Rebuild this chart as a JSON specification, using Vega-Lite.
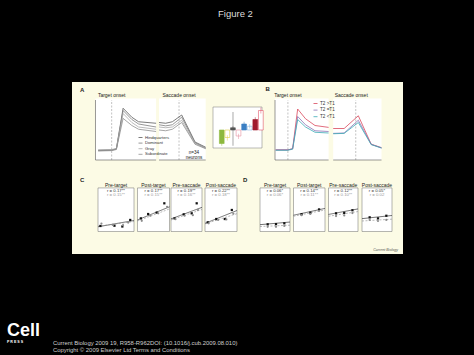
{
"$schema": "https://vega.github.io/schema/vega-lite/v6.json",
"background": "#000000",
"autosize": {"type": "pad"},
"padding": {"left": 7, "right": 75, "top": 8, "bottom": 4},
"title": {"text": "Figure 2", "anchor": "start", "frame": "group", "dx": 146, "offset": 64, "fontSize": 9.5, "fontWeight": "normal", "color": "#dddddd", "font": "Liberation Sans"},
"config": {
 "font": "Liberation Sans",
 "view": {"fill": "#fcfbe5", "stroke": "transparent", "strokeWidth": 0},
 "axis": {"grid": false, "domain": false, "labelFont": "Liberation Sans", "labelFontSize": 5, "labelColor": "#333333", "tickColor": "#555555", "domainColor": "#555555", "tickSize": 2, "tickWidth": 0.6, "domainWidth": 0.6, "labelPadding": 1, "titleFont": "Liberation Sans", "titleFontSize": 5, "titleFontWeight": "normal", "titleColor": "#333333", "titlePadding": 1.5, "labelOverlap": false, "labelFlush": false},
 "legend": {"labelFont": "Liberation Sans", "labelFontSize": 4.2, "labelColor": "#333333", "padding": 0, "rowPadding": 0.6, "labelOffset": 2, "symbolSize": 16, "symbolStrokeWidth": 0.8},
 "title": {"font": "Liberation Sans", "fontSize": 6, "fontWeight": "bold", "color": "#222222", "subtitleFont": "Liberation Sans"},
 "text": {"font": "Liberation Sans", "color": "#222222"}
},
"datasets": {
 "firingA": [
  {"alignment": "Target onset", "group": "Hindquarters", "t": -100, "rate": 13},
  {"alignment": "Target onset", "group": "Hindquarters", "t": 0, "rate": 13.5},
  {"alignment": "Target onset", "group": "Hindquarters", "t": 35, "rate": 15},
  {"alignment": "Target onset", "group": "Hindquarters", "t": 85, "rate": 69},
  {"alignment": "Target onset", "group": "Hindquarters", "t": 150, "rate": 57},
  {"alignment": "Target onset", "group": "Hindquarters", "t": 200, "rate": 51},
  {"alignment": "Target onset", "group": "Hindquarters", "t": 330, "rate": 49},
  {"alignment": "Target onset", "group": "Dominant", "t": -100, "rate": 12.5},
  {"alignment": "Target onset", "group": "Dominant", "t": 0, "rate": 13},
  {"alignment": "Target onset", "group": "Dominant", "t": 35, "rate": 14.5},
  {"alignment": "Target onset", "group": "Dominant", "t": 85, "rate": 66},
  {"alignment": "Target onset", "group": "Dominant", "t": 150, "rate": 54},
  {"alignment": "Target onset", "group": "Dominant", "t": 200, "rate": 48},
  {"alignment": "Target onset", "group": "Dominant", "t": 330, "rate": 44},
  {"alignment": "Target onset", "group": "Gray", "t": -100, "rate": 13.5},
  {"alignment": "Target onset", "group": "Gray", "t": 0, "rate": 14},
  {"alignment": "Target onset", "group": "Gray", "t": 35, "rate": 15},
  {"alignment": "Target onset", "group": "Gray", "t": 85, "rate": 62},
  {"alignment": "Target onset", "group": "Gray", "t": 150, "rate": 50},
  {"alignment": "Target onset", "group": "Gray", "t": 200, "rate": 44},
  {"alignment": "Target onset", "group": "Gray", "t": 330, "rate": 41},
  {"alignment": "Target onset", "group": "Subordinate", "t": -100, "rate": 12},
  {"alignment": "Target onset", "group": "Subordinate", "t": 0, "rate": 12.5},
  {"alignment": "Target onset", "group": "Subordinate", "t": 35, "rate": 14},
  {"alignment": "Target onset", "group": "Subordinate", "t": 85, "rate": 55.5},
  {"alignment": "Target onset", "group": "Subordinate", "t": 150, "rate": 46},
  {"alignment": "Target onset", "group": "Subordinate", "t": 200, "rate": 41},
  {"alignment": "Target onset", "group": "Subordinate", "t": 330, "rate": 38},
  {"alignment": "Saccade onset", "group": "Hindquarters", "t": -150, "rate": 50},
  {"alignment": "Saccade onset", "group": "Hindquarters", "t": -100, "rate": 49},
  {"alignment": "Saccade onset", "group": "Hindquarters", "t": -50, "rate": 51},
  {"alignment": "Saccade onset", "group": "Hindquarters", "t": 20, "rate": 60},
  {"alignment": "Saccade onset", "group": "Hindquarters", "t": 120, "rate": 24},
  {"alignment": "Saccade onset", "group": "Hindquarters", "t": 200, "rate": 17},
  {"alignment": "Saccade onset", "group": "Dominant", "t": -150, "rate": 47},
  {"alignment": "Saccade onset", "group": "Dominant", "t": -100, "rate": 45.5},
  {"alignment": "Saccade onset", "group": "Dominant", "t": -50, "rate": 47},
  {"alignment": "Saccade onset", "group": "Dominant", "t": 20, "rate": 57},
  {"alignment": "Saccade onset", "group": "Dominant", "t": 120, "rate": 23},
  {"alignment": "Saccade onset", "group": "Dominant", "t": 200, "rate": 16},
  {"alignment": "Saccade onset", "group": "Gray", "t": -150, "rate": 44},
  {"alignment": "Saccade onset", "group": "Gray", "t": -100, "rate": 43},
  {"alignment": "Saccade onset", "group": "Gray", "t": -50, "rate": 44},
  {"alignment": "Saccade onset", "group": "Gray", "t": 20, "rate": 53},
  {"alignment": "Saccade onset", "group": "Gray", "t": 120, "rate": 22},
  {"alignment": "Saccade onset", "group": "Gray", "t": 200, "rate": 15.5},
  {"alignment": "Saccade onset", "group": "Subordinate", "t": -150, "rate": 40},
  {"alignment": "Saccade onset", "group": "Subordinate", "t": -100, "rate": 39},
  {"alignment": "Saccade onset", "group": "Subordinate", "t": -50, "rate": 41},
  {"alignment": "Saccade onset", "group": "Subordinate", "t": 20, "rate": 50},
  {"alignment": "Saccade onset", "group": "Subordinate", "t": 120, "rate": 21},
  {"alignment": "Saccade onset", "group": "Subordinate", "t": 200, "rate": 15}
 ],
 "firingB": [
  {"alignment": "Target onset", "juice": "T2 >T1", "t": -90, "rate": 13.5},
  {"alignment": "Target onset", "juice": "T2 >T1", "t": 0, "rate": 13.5},
  {"alignment": "Target onset", "juice": "T2 >T1", "t": 35, "rate": 15},
  {"alignment": "Target onset", "juice": "T2 >T1", "t": 72, "rate": 68},
  {"alignment": "Target onset", "juice": "T2 >T1", "t": 130, "rate": 55},
  {"alignment": "Target onset", "juice": "T2 >T1", "t": 200, "rate": 46},
  {"alignment": "Target onset", "juice": "T2 >T1", "t": 300, "rate": 43.5},
  {"alignment": "Target onset", "juice": "T2 =T1", "t": -90, "rate": 13.5},
  {"alignment": "Target onset", "juice": "T2 =T1", "t": 0, "rate": 13.5},
  {"alignment": "Target onset", "juice": "T2 =T1", "t": 35, "rate": 15},
  {"alignment": "Target onset", "juice": "T2 =T1", "t": 72, "rate": 58},
  {"alignment": "Target onset", "juice": "T2 =T1", "t": 130, "rate": 47},
  {"alignment": "Target onset", "juice": "T2 =T1", "t": 200, "rate": 39},
  {"alignment": "Target onset", "juice": "T2 =T1", "t": 300, "rate": 38},
  {"alignment": "Target onset", "juice": "T2 <T1", "t": -90, "rate": 13},
  {"alignment": "Target onset", "juice": "T2 <T1", "t": 0, "rate": 13},
  {"alignment": "Target onset", "juice": "T2 <T1", "t": 35, "rate": 14.5},
  {"alignment": "Target onset", "juice": "T2 <T1", "t": 72, "rate": 54},
  {"alignment": "Target onset", "juice": "T2 <T1", "t": 130, "rate": 44},
  {"alignment": "Target onset", "juice": "T2 <T1", "t": 200, "rate": 37},
  {"alignment": "Target onset", "juice": "T2 <T1", "t": 300, "rate": 36},
  {"alignment": "Saccade onset", "juice": "T2 >T1", "t": -175, "rate": 42},
  {"alignment": "Saccade onset", "juice": "T2 >T1", "t": -90, "rate": 42},
  {"alignment": "Saccade onset", "juice": "T2 >T1", "t": 20, "rate": 59},
  {"alignment": "Saccade onset", "juice": "T2 >T1", "t": 120, "rate": 21},
  {"alignment": "Saccade onset", "juice": "T2 >T1", "t": 200, "rate": 16.5},
  {"alignment": "Saccade onset", "juice": "T2 =T1", "t": -175, "rate": 35.5},
  {"alignment": "Saccade onset", "juice": "T2 =T1", "t": -90, "rate": 36},
  {"alignment": "Saccade onset", "juice": "T2 =T1", "t": 20, "rate": 53},
  {"alignment": "Saccade onset", "juice": "T2 =T1", "t": 120, "rate": 21},
  {"alignment": "Saccade onset", "juice": "T2 =T1", "t": 200, "rate": 16},
  {"alignment": "Saccade onset", "juice": "T2 <T1", "t": -175, "rate": 35},
  {"alignment": "Saccade onset", "juice": "T2 <T1", "t": -90, "rate": 35.5},
  {"alignment": "Saccade onset", "juice": "T2 <T1", "t": 20, "rate": 50},
  {"alignment": "Saccade onset", "juice": "T2 <T1", "t": 120, "rate": 20.5},
  {"alignment": "Saccade onset", "juice": "T2 <T1", "t": 200, "rate": 16}
 ],
 "inset": [
  {"condition": "Subordinate (M1)", "value": -18, "lo": -21, "hi": -15},
  {"condition": "Subordinate (M2)", "value": -10, "lo": -14, "hi": -7},
  {"condition": "Gray (M1)", "value": 3, "lo": 1, "hi": 5},
  {"condition": "Gray (M2)", "value": -8, "lo": -12, "hi": -5},
  {"condition": "Dominant (M1)", "value": 8, "lo": 5, "hi": 11},
  {"condition": "Dominant (M2)", "value": 5, "lo": 2, "hi": 8},
  {"condition": "Hindquarters (M1)", "value": 14, "lo": 11, "hi": 17},
  {"condition": "Hindquarters (M2)", "value": 26, "lo": 22, "hi": 30}
 ],
 "imageValuePoints": [
  {"epoch": "Pre-target", "set": "Set 1", "x": -48, "rate": 10.5},
  {"epoch": "Pre-target", "set": "Set 1", "x": -7, "rate": 11},
  {"epoch": "Pre-target", "set": "Set 1", "x": 16, "rate": 9.5},
  {"epoch": "Pre-target", "set": "Set 1", "x": 39, "rate": 22},
  {"epoch": "Pre-target", "set": "Set 2", "x": -45, "rate": 15},
  {"epoch": "Pre-target", "set": "Set 2", "x": -12, "rate": 12.5},
  {"epoch": "Pre-target", "set": "Set 2", "x": 18, "rate": 12},
  {"epoch": "Pre-target", "set": "Set 2", "x": 33, "rate": 17},
  {"epoch": "Post-target", "set": "Set 1", "x": -44, "rate": 25},
  {"epoch": "Post-target", "set": "Set 1", "x": -20, "rate": 33.3},
  {"epoch": "Post-target", "set": "Set 1", "x": 8, "rate": 36},
  {"epoch": "Post-target", "set": "Set 1", "x": 33, "rate": 53.7},
  {"epoch": "Post-target", "set": "Set 2", "x": -41, "rate": 20.4},
  {"epoch": "Post-target", "set": "Set 2", "x": -13, "rate": 30},
  {"epoch": "Post-target", "set": "Set 2", "x": 13, "rate": 34.6},
  {"epoch": "Post-target", "set": "Set 2", "x": 42, "rate": 47},
  {"epoch": "Pre-saccade", "set": "Set 1", "x": -43, "rate": 25},
  {"epoch": "Pre-saccade", "set": "Set 1", "x": -12, "rate": 32.7},
  {"epoch": "Pre-saccade", "set": "Set 1", "x": 15, "rate": 34.6},
  {"epoch": "Pre-saccade", "set": "Set 1", "x": 32, "rate": 53.7},
  {"epoch": "Pre-saccade", "set": "Set 2", "x": -40, "rate": 23.5},
  {"epoch": "Pre-saccade", "set": "Set 2", "x": -9, "rate": 30},
  {"epoch": "Pre-saccade", "set": "Set 2", "x": 19, "rate": 31},
  {"epoch": "Pre-saccade", "set": "Set 2", "x": 36, "rate": 41},
  {"epoch": "Post-saccade", "set": "Set 1", "x": -46, "rate": 17.5},
  {"epoch": "Post-saccade", "set": "Set 1", "x": -18, "rate": 23.8},
  {"epoch": "Post-saccade", "set": "Set 1", "x": 10, "rate": 23.8},
  {"epoch": "Post-saccade", "set": "Set 1", "x": 33, "rate": 41},
  {"epoch": "Post-saccade", "set": "Set 2", "x": -43, "rate": 15.6},
  {"epoch": "Post-saccade", "set": "Set 2", "x": -12, "rate": 22},
  {"epoch": "Post-saccade", "set": "Set 2", "x": 15, "rate": 23},
  {"epoch": "Post-saccade", "set": "Set 2", "x": 38, "rate": 34}
 ],
 "imageValueFits": [
  {"epoch": "Pre-target", "set": "Set 1", "x": -55, "rate": 9},
  {"epoch": "Pre-target", "set": "Set 1", "x": 50, "rate": 21},
  {"epoch": "Pre-target", "set": "Set 2", "x": -55, "rate": 10},
  {"epoch": "Pre-target", "set": "Set 2", "x": 50, "rate": 19},
  {"epoch": "Post-target", "set": "Set 1", "x": -55, "rate": 22},
  {"epoch": "Post-target", "set": "Set 1", "x": 50, "rate": 47},
  {"epoch": "Post-target", "set": "Set 2", "x": -55, "rate": 20},
  {"epoch": "Post-target", "set": "Set 2", "x": 50, "rate": 43},
  {"epoch": "Pre-saccade", "set": "Set 1", "x": -55, "rate": 24},
  {"epoch": "Pre-saccade", "set": "Set 1", "x": 50, "rate": 46},
  {"epoch": "Pre-saccade", "set": "Set 2", "x": -55, "rate": 22},
  {"epoch": "Pre-saccade", "set": "Set 2", "x": 50, "rate": 42},
  {"epoch": "Post-saccade", "set": "Set 1", "x": -55, "rate": 15.5},
  {"epoch": "Post-saccade", "set": "Set 1", "x": 50, "rate": 40},
  {"epoch": "Post-saccade", "set": "Set 2", "x": -55, "rate": 14.5},
  {"epoch": "Post-saccade", "set": "Set 2", "x": 50, "rate": 34}
 ],
 "juicePoints": [
  {"epoch": "Pre-target", "set": "Set 1", "x": -25, "rate": 13.7},
  {"epoch": "Pre-target", "set": "Set 1", "x": 0, "rate": 14},
  {"epoch": "Pre-target", "set": "Set 1", "x": 25, "rate": 15.6},
  {"epoch": "Pre-target", "set": "Set 2", "x": -25, "rate": 9},
  {"epoch": "Pre-target", "set": "Set 2", "x": 0, "rate": 9},
  {"epoch": "Pre-target", "set": "Set 2", "x": 25, "rate": 10.5},
  {"epoch": "Post-target", "set": "Set 1", "x": -25, "rate": 33},
  {"epoch": "Post-target", "set": "Set 1", "x": 0, "rate": 35.8},
  {"epoch": "Post-target", "set": "Set 1", "x": 25, "rate": 42},
  {"epoch": "Post-target", "set": "Set 2", "x": -25, "rate": 31},
  {"epoch": "Post-target", "set": "Set 2", "x": 0, "rate": 33.5},
  {"epoch": "Post-target", "set": "Set 2", "x": 25, "rate": 39.5},
  {"epoch": "Pre-saccade", "set": "Set 1", "x": -25, "rate": 34.6},
  {"epoch": "Pre-saccade", "set": "Set 1", "x": 0, "rate": 35.5},
  {"epoch": "Pre-saccade", "set": "Set 1", "x": 25, "rate": 40.5},
  {"epoch": "Pre-saccade", "set": "Set 2", "x": -25, "rate": 29.5},
  {"epoch": "Pre-saccade", "set": "Set 2", "x": 0, "rate": 30.5},
  {"epoch": "Pre-saccade", "set": "Set 2", "x": 25, "rate": 35},
  {"epoch": "Post-saccade", "set": "Set 1", "x": -25, "rate": 27},
  {"epoch": "Post-saccade", "set": "Set 1", "x": 0, "rate": 25},
  {"epoch": "Post-saccade", "set": "Set 1", "x": 25, "rate": 30},
  {"epoch": "Post-saccade", "set": "Set 2", "x": -25, "rate": 22},
  {"epoch": "Post-saccade", "set": "Set 2", "x": 0, "rate": 20},
  {"epoch": "Post-saccade", "set": "Set 2", "x": 25, "rate": 22}
 ],
 "juiceFits": [
  {"epoch": "Pre-target", "set": "Set 1", "x": -48, "rate": 13},
  {"epoch": "Pre-target", "set": "Set 1", "x": 42, "rate": 18},
  {"epoch": "Pre-target", "set": "Set 2", "x": -48, "rate": 9.5},
  {"epoch": "Pre-target", "set": "Set 2", "x": 42, "rate": 12},
  {"epoch": "Post-target", "set": "Set 1", "x": -48, "rate": 31},
  {"epoch": "Post-target", "set": "Set 1", "x": 42, "rate": 44},
  {"epoch": "Post-target", "set": "Set 2", "x": -48, "rate": 29},
  {"epoch": "Post-target", "set": "Set 2", "x": 42, "rate": 41},
  {"epoch": "Pre-saccade", "set": "Set 1", "x": -48, "rate": 32.5},
  {"epoch": "Pre-saccade", "set": "Set 1", "x": 42, "rate": 43},
  {"epoch": "Pre-saccade", "set": "Set 2", "x": -48, "rate": 29},
  {"epoch": "Pre-saccade", "set": "Set 2", "x": 42, "rate": 38},
  {"epoch": "Post-saccade", "set": "Set 1", "x": -48, "rate": 24.5},
  {"epoch": "Post-saccade", "set": "Set 1", "x": 42, "rate": 30.5},
  {"epoch": "Post-saccade", "set": "Set 2", "x": -48, "rate": 20},
  {"epoch": "Post-saccade", "set": "Set 2", "x": 42, "rate": 23.5}
 ]
},
"spacing": 0,
"resolve": {"scale": {"color": "independent", "shape": "independent", "strokeDash": "independent", "fill": "independent", "stroke": "independent"}},
"vconcat": [
 {
  "spacing": 0, "bounds": "flush",
  "resolve": {"scale": {"color": "independent"}},
  "hconcat": [
   {
    "width": 85, "height": 93,
    "title": {"text": "A", "anchor": "start", "frame": "group", "dx": 8, "offset": -10.5},
    "layer": [
     {"data": {"values": [{}]}, "mark": {"type": "rect", "fill": "#ffffff"},
      "encoding": {"x": {"datum": -120, "scale": {"domain": [-294.5, 336.7], "nice": false, "zero": false}, "axis": null}, "x2": {"datum": 330}, "y": {"datum": 0, "scale": {"domain": [-20, 104], "nice": false, "zero": false}, "axis": null}, "y2": {"datum": 82}}},
     {"data": {"values": [{}]}, "mark": {"type": "rule", "stroke": "#9a9a9a", "strokeWidth": 0.6, "strokeDash": [2, 1.5]},
      "encoding": {"x": {"datum": 0, "scale": {"domain": [-294.5, 336.7], "nice": false, "zero": false}, "axis": null}, "y": {"datum": 0, "scale": {"domain": [-20, 104], "nice": false, "zero": false}, "axis": null}, "y2": {"datum": 80}}},
     {"data": {"values": [{}]}, "mark": {"type": "rule", "stroke": "#555555", "strokeWidth": 0.6},
      "encoding": {"x": {"datum": -120, "scale": {"domain": [-294.5, 336.7], "nice": false, "zero": false}, "axis": null}, "x2": {"datum": 330}, "y": {"datum": 0, "scale": {"domain": [-20, 104], "nice": false, "zero": false}, "axis": null}}},
     {"data": {"values": [{}]}, "mark": {"type": "rule", "stroke": "#555555", "strokeWidth": 0.6},
      "encoding": {"x": {"datum": -120, "scale": {"domain": [-294.5, 336.7], "nice": false, "zero": false}, "axis": null}, "y": {"datum": 0, "scale": {"domain": [-20, 104], "nice": false, "zero": false}, "axis": null}, "y2": {"datum": 80}}},
     {"data": {"name": "firingA"}, "transform": [{"filter": "datum.alignment == 'Target onset'"}], "mark": {"type": "line", "strokeWidth": 0.8},
      "encoding": {
       "x": {"field": "t", "type": "quantitative", "scale": {"domain": [-294.5, 336.7], "nice": false, "zero": false}, "axis": {"values": [-100, 0, 100, 200, 300], "labelExpr": "datum.value == 0 || datum.value == 200 ? datum.label : ''", "title": null, "offset": -15}},
       "y": {"field": "rate", "type": "quantitative", "scale": {"domain": [-20, 104], "nice": false, "zero": false}, "axis": {"values": [0, 20, 40, 60, 80], "labelExpr": "datum.value % 40 == 0 ? datum.label : ''", "title": "Firing rate (sp/s)", "titleFontSize": 4.3, "offset": -23.5}},
       "color": {"field": "group", "type": "nominal", "scale": {"domain": ["Hindquarters", "Dominant", "Gray", "Subordinate"], "range": ["#5a5a5a", "#7d7d7d", "#aaaaaa", "#8f8f8f"]}, "legend": null}}},
     {"data": {"values": [{}]}, "mark": {"type": "text", "fontSize": 5},
      "encoding": {"x": {"datum": 0, "scale": {"domain": [-294.5, 336.7], "nice": false, "zero": false}, "axis": null}, "y": {"datum": 87, "scale": {"domain": [-20, 104], "nice": false, "zero": false}, "axis": null}, "text": {"value": "Target onset"}}}
    ]
   },
   {
    "width": 53, "height": 93,
    "layer": [
     {"data": {"values": [{}]}, "mark": {"type": "rect", "fill": "#ffffff"},
      "encoding": {"x": {"datum": -150, "scale": {"domain": [-165, 232.2], "nice": false, "zero": false}, "axis": null}, "x2": {"datum": 200}, "y": {"datum": 0, "scale": {"domain": [-20, 104], "nice": false, "zero": false}, "axis": null}, "y2": {"datum": 82}}},
     {"data": {"values": [{}]}, "mark": {"type": "rule", "stroke": "#9a9a9a", "strokeWidth": 0.6, "strokeDash": [2, 1.5]},
      "encoding": {"x": {"datum": 0, "scale": {"domain": [-165, 232.2], "nice": false, "zero": false}, "axis": null}, "y": {"datum": 0, "scale": {"domain": [-20, 104], "nice": false, "zero": false}, "axis": null}, "y2": {"datum": 80}}},
     {"data": {"values": [{}]}, "mark": {"type": "rule", "stroke": "#555555", "strokeWidth": 0.6},
      "encoding": {"x": {"datum": -150, "scale": {"domain": [-165, 232.2], "nice": false, "zero": false}, "axis": null}, "x2": {"datum": 200}, "y": {"datum": 0, "scale": {"domain": [-20, 104], "nice": false, "zero": false}, "axis": null}}},
     {"data": {"name": "firingA"}, "transform": [{"filter": "datum.alignment == 'Saccade onset'"}], "mark": {"type": "line", "strokeWidth": 0.8},
      "encoding": {
       "x": {"field": "t", "type": "quantitative", "scale": {"domain": [-165, 232.2], "nice": false, "zero": false}, "axis": {"values": [-100, 0, 100, 200], "labelExpr": "datum.value == 0 || datum.value == 200 ? datum.label : ''", "title": "Time (ms)", "titleX": -5, "titleY": 11, "titleBaseline": "middle", "titleAlign": "center", "offset": -15}},
       "y": {"field": "rate", "type": "quantitative", "scale": {"domain": [-20, 104], "nice": false, "zero": false}, "axis": null},
       "color": {"field": "group", "type": "nominal", "scale": {"domain": ["Hindquarters", "Dominant", "Gray", "Subordinate"], "range": ["#5a5a5a", "#7d7d7d", "#aaaaaa", "#8f8f8f"]}, "legend": {"orient": "none", "legendX": -19, "legendY": 53, "title": null}}}},
     {"data": {"values": [{}]}, "mark": {"type": "text", "fontSize": 5},
      "encoding": {"x": {"datum": 0, "scale": {"domain": [-165, 232.2], "nice": false, "zero": false}, "axis": null}, "y": {"datum": 87, "scale": {"domain": [-20, 104], "nice": false, "zero": false}, "axis": null}, "text": {"value": "Saccade onset"}}},
     {"data": {"values": [{}]}, "mark": {"type": "text", "fontSize": 4.6, "lineHeight": 5.5, "baseline": "middle"},
      "encoding": {"x": {"datum": 112, "scale": {"domain": [-165, 232.2], "nice": false, "zero": false}, "axis": null}, "y": {"datum": 9.5, "scale": {"domain": [-20, 104], "nice": false, "zero": false}, "axis": null}, "text": {"value": ["n=34", "neurons"]}}}
    ]
   },
   {
    "width": 55, "height": 93,
    "resolve": {"scale": {"x": "independent"}, "axis": {"x": "independent"}},
    "layer": [
     {"data": {"values": [{}]}, "mark": {"type": "rect", "fill": "#ffffff", "stroke": "#777777", "strokeWidth": 0.5},
      "encoding": {"x": {"datum": 0, "scale": {"domain": [-0.0612, 1.0612], "nice": false, "zero": false}, "axis": null}, "x2": {"datum": 1}, "y": {"datum": -24, "scale": {"domain": [-60, 64], "nice": false, "zero": false}, "axis": null}, "y2": {"datum": 30.67}}},
     {"data": {"values": [{}]}, "mark": {"type": "rule", "stroke": "#555555", "strokeWidth": 0.5},
      "encoding": {"x": {"datum": 0.408, "scale": {"domain": [-0.0612, 1.0612], "nice": false, "zero": false}, "axis": null}, "y": {"datum": -21, "scale": {"domain": [-60, 64], "nice": false, "zero": false}, "axis": null}, "y2": {"datum": 24}}},
     {"data": {"name": "inset"}, "mark": {"type": "bar", "strokeWidth": 0.6},
      "encoding": {
       "x": {"field": "condition", "type": "nominal", "sort": null, "scale": {"domain": ["Subordinate (M1)", "Subordinate (M2)", "Gray (M1)", "Gray (M2)", "Dominant (M1)", "Dominant (M2)", "Hindquarters (M1)", "Hindquarters (M2)"], "paddingInner": 0.15, "paddingOuter": 5.26, "align": 0.841}, "axis": null},
       "y": {"field": "value", "type": "quantitative", "scale": {"domain": [-60, 64], "nice": false, "zero": false}, "axis": {"values": [-20, 0, 20], "offset": -23, "title": ["Image value", "(ms of juice)"], "titleFontSize": 3.8, "labelFontSize": 4.2, "titlePadding": 1, "tickSize": 1.5}},
       "y2": {"datum": 0},
       "fill": {"field": "condition", "type": "nominal", "scale": {"domain": ["Subordinate (M1)", "Subordinate (M2)", "Gray (M1)", "Gray (M2)", "Dominant (M1)", "Dominant (M2)", "Hindquarters (M1)", "Hindquarters (M2)"], "range": ["#8db83e", "#ffffff", "#555555", "#ffffff", "#3b7fc4", "#ffffff", "#a01b2e", "#ffffff"]}, "legend": null},
       "stroke": {"field": "condition", "type": "nominal", "scale": {"domain": ["Subordinate (M1)", "Subordinate (M2)", "Gray (M1)", "Gray (M2)", "Dominant (M1)", "Dominant (M2)", "Hindquarters (M1)", "Hindquarters (M2)"], "range": ["#8db83e", "#e0cc45", "#555555", "#e48ea0", "#3b7fc4", "#86b6e2", "#a01b2e", "#e25468"]}, "legend": null}}},
     {"data": {"name": "inset"}, "mark": {"type": "rule", "strokeWidth": 0.5},
      "encoding": {
       "x": {"field": "condition", "type": "nominal", "sort": null, "scale": {"domain": ["Subordinate (M1)", "Subordinate (M2)", "Gray (M1)", "Gray (M2)", "Dominant (M1)", "Dominant (M2)", "Hindquarters (M1)", "Hindquarters (M2)"], "paddingInner": 0.15, "paddingOuter": 5.26, "align": 0.841}, "axis": null},
       "y": {"field": "lo", "type": "quantitative", "scale": {"domain": [-60, 64], "nice": false, "zero": false}, "axis": null},
       "y2": {"field": "hi"},
       "stroke": {"field": "condition", "type": "nominal", "scale": {"domain": ["Subordinate (M1)", "Subordinate (M2)", "Gray (M1)", "Gray (M2)", "Dominant (M1)", "Dominant (M2)", "Hindquarters (M1)", "Hindquarters (M2)"], "range": ["#8db83e", "#e0cc45", "#555555", "#e48ea0", "#3b7fc4", "#86b6e2", "#a01b2e", "#e25468"]}, "legend": null}}}
    ]
   },
   {
    "width": 66, "height": 93,
    "title": {"text": "B", "anchor": "start", "frame": "group", "dx": 0.5, "offset": -9.5},
    "layer": [
     {"data": {"values": [{}]}, "mark": {"type": "rect", "fill": "#ffffff"},
      "encoding": {"x": {"datum": -95, "scale": {"domain": [-168.7, 317.7], "nice": false, "zero": false}, "axis": null}, "x2": {"datum": 300}, "y": {"datum": 0, "scale": {"domain": [-20, 104], "nice": false, "zero": false}, "axis": null}, "y2": {"datum": 82}}},
     {"data": {"values": [{}]}, "mark": {"type": "rule", "stroke": "#9a9a9a", "strokeWidth": 0.6, "strokeDash": [2, 1.5]},
      "encoding": {"x": {"datum": 0, "scale": {"domain": [-168.7, 317.7], "nice": false, "zero": false}, "axis": null}, "y": {"datum": 0, "scale": {"domain": [-20, 104], "nice": false, "zero": false}, "axis": null}, "y2": {"datum": 80}}},
     {"data": {"values": [{}]}, "mark": {"type": "rule", "stroke": "#555555", "strokeWidth": 0.6},
      "encoding": {"x": {"datum": -95, "scale": {"domain": [-168.7, 317.7], "nice": false, "zero": false}, "axis": null}, "x2": {"datum": 300}, "y": {"datum": 0, "scale": {"domain": [-20, 104], "nice": false, "zero": false}, "axis": null}}},
     {"data": {"values": [{}]}, "mark": {"type": "rule", "stroke": "#555555", "strokeWidth": 0.6},
      "encoding": {"x": {"datum": -95, "scale": {"domain": [-168.7, 317.7], "nice": false, "zero": false}, "axis": null}, "y": {"datum": 0, "scale": {"domain": [-20, 104], "nice": false, "zero": false}, "axis": null}, "y2": {"datum": 80}}},
     {"data": {"name": "firingB"}, "transform": [{"filter": "datum.alignment == 'Target onset'"}], "mark": {"type": "line", "strokeWidth": 0.8},
      "encoding": {
       "x": {"field": "t", "type": "quantitative", "scale": {"domain": [-168.7, 317.7], "nice": false, "zero": false}, "axis": {"values": [0, 100, 200, 300], "labelExpr": "datum.value == 0 || datum.value == 200 ? datum.label : ''", "title": null, "offset": -15}},
       "y": {"field": "rate", "type": "quantitative", "scale": {"domain": [-20, 104], "nice": false, "zero": false}, "axis": {"values": [0, 20, 40, 60, 80], "labelExpr": "datum.value % 40 == 0 ? datum.label : ''", "title": null, "offset": -10}},
       "color": {"field": "juice", "type": "nominal", "scale": {"domain": ["T2 >T1", "T2 =T1", "T2 <T1"], "range": ["#d9475c", "#8c73b5", "#3aaab5"]}, "legend": null}}},
     {"data": {"values": [{}]}, "mark": {"type": "text", "fontSize": 5},
      "encoding": {"x": {"datum": 0, "scale": {"domain": [-168.7, 317.7], "nice": false, "zero": false}, "axis": null}, "y": {"datum": 87, "scale": {"domain": [-20, 104], "nice": false, "zero": false}, "axis": null}, "text": {"value": "Target onset"}}}
    ]
   },
   {
    "width": 72, "height": 93,
    "layer": [
     {"data": {"values": [{}]}, "mark": {"type": "rect", "fill": "#ffffff"},
      "encoding": {"x": {"datum": -175, "scale": {"domain": [-192.1, 366.9], "nice": false, "zero": false}, "axis": null}, "x2": {"datum": 200}, "y": {"datum": 0, "scale": {"domain": [-20, 104], "nice": false, "zero": false}, "axis": null}, "y2": {"datum": 82}}},
     {"data": {"values": [{}]}, "mark": {"type": "rule", "stroke": "#9a9a9a", "strokeWidth": 0.6, "strokeDash": [2, 1.5]},
      "encoding": {"x": {"datum": 0, "scale": {"domain": [-192.1, 366.9], "nice": false, "zero": false}, "axis": null}, "y": {"datum": 0, "scale": {"domain": [-20, 104], "nice": false, "zero": false}, "axis": null}, "y2": {"datum": 80}}},
     {"data": {"values": [{}]}, "mark": {"type": "rule", "stroke": "#555555", "strokeWidth": 0.6},
      "encoding": {"x": {"datum": -175, "scale": {"domain": [-192.1, 366.9], "nice": false, "zero": false}, "axis": null}, "x2": {"datum": 200}, "y": {"datum": 0, "scale": {"domain": [-20, 104], "nice": false, "zero": false}, "axis": null}}},
     {"data": {"name": "firingB"}, "transform": [{"filter": "datum.alignment == 'Saccade onset'"}], "mark": {"type": "line", "strokeWidth": 0.8},
      "encoding": {
       "x": {"field": "t", "type": "quantitative", "scale": {"domain": [-192.1, 366.9], "nice": false, "zero": false}, "axis": {"values": [-100, 0, 100, 200], "labelExpr": "datum.value == 0 || datum.value == 200 ? datum.label : ''", "title": "Time (ms)", "titleX": -5, "titleY": 9, "titleBaseline": "middle", "titleAlign": "center", "offset": -15}},
       "y": {"field": "rate", "type": "quantitative", "scale": {"domain": [-20, 104], "nice": false, "zero": false}, "axis": null},
       "color": {"field": "juice", "type": "nominal", "scale": {"domain": ["T2 >T1", "T2 =T1", "T2 <T1"], "range": ["#d9475c", "#8c73b5", "#3aaab5"]}, "legend": {"orient": "none", "legendX": -18, "legendY": 19, "title": null, "labelFontSize": 4.6}}}},
     {"data": {"values": [{}]}, "mark": {"type": "text", "fontSize": 5},
      "encoding": {"x": {"datum": -35, "scale": {"domain": [-192.1, 366.9], "nice": false, "zero": false}, "axis": null}, "y": {"datum": 87, "scale": {"domain": [-20, 104], "nice": false, "zero": false}, "axis": null}, "text": {"value": "Saccade onset"}}}
    ]
   }
  ]
 },
 {
  "spacing": 0, "bounds": "flush",
  "resolve": {"scale": {"color": "independent", "shape": "independent", "strokeDash": "independent"}},
  "hconcat": [
   {
    "width": 64, "height": 79,
    "title": {"text": "C", "anchor": "start", "frame": "group", "dx": 8, "offset": -7.5},
    "layer": [
     {"data": {"values": [{}]}, "mark": {"type": "rect", "fill": "#ffffff", "stroke": "#6b6b6b", "strokeWidth": 0.5},
      "encoding": {"x": {"datum": -55, "scale": {"domain": [-130.83, 55.83], "nice": false, "zero": false}, "axis": null}, "x2": {"datum": 50}, "y": {"datum": 0, "scale": {"domain": [-42.86, 107.62], "nice": false, "zero": false}, "axis": null}, "y2": {"datum": 83}}},
     {"data": {"name": "imageValueFits"}, "transform": [{"filter": "datum.epoch == 'Pre-target'"}], "mark": {"type": "line", "strokeWidth": 0.6},
      "encoding": {
       "x": {"field": "x", "type": "quantitative", "scale": {"domain": [-130.83, 55.83], "nice": false, "zero": false}, "axis": {"values": [-25, 0, 25], "offset": -22.5, "title": null, "labelFontSize": 4.5, "tickSize": 1.5}},
       "y": {"field": "rate", "type": "quantitative", "scale": {"domain": [-42.86, 107.62], "nice": false, "zero": false}, "axis": {"values": [20, 40, 60], "offset": -26, "title": "Firing rate (sp/s)", "labelFontSize": 4.5, "titleFontSize": 4.3, "tickSize": 1.5}},
       "color": {"field": "set", "type": "nominal", "scale": {"domain": ["Set 1", "Set 2"], "range": ["#111111", "#8c8c8c"]}, "legend": null},
       "strokeDash": {"field": "set", "type": "nominal", "scale": {"domain": ["Set 1", "Set 2"], "range": [[1, 0], [2, 1.5]]}, "legend": null}}},
     {"data": {"name": "imageValuePoints"}, "transform": [{"filter": "datum.epoch == 'Pre-target'"}], "mark": {"type": "point", "filled": true, "size": 5, "opacity": 1},
      "encoding": {
       "x": {"field": "x", "type": "quantitative", "scale": {"domain": [-130.83, 55.83], "nice": false, "zero": false}, "axis": null},
       "y": {"field": "rate", "type": "quantitative", "scale": {"domain": [-42.86, 107.62], "nice": false, "zero": false}, "axis": null},
       "color": {"field": "set", "type": "nominal", "scale": {"domain": ["Set 1", "Set 2"], "range": ["#111111", "#8c8c8c"]}, "legend": null},
       "shape": {"field": "set", "type": "nominal", "scale": {"domain": ["Set 1", "Set 2"], "range": ["square", "circle"]}, "legend": null}}},
     {"data": {"values": [{}]}, "mark": {"type": "text", "fontSize": 5},
      "encoding": {"x": {"datum": -2.5, "scale": {"domain": [-130.83, 55.83], "nice": false, "zero": false}, "axis": null}, "y": {"datum": 89.5, "scale": {"domain": [-42.86, 107.62], "nice": false, "zero": false}, "axis": null}, "text": {"value": "Pre-target"}}},
     {"data": {"values": [{}]}, "mark": {"type": "text", "fontSize": 4.3, "color": "#333333"},
      "encoding": {"x": {"datum": -2.5, "scale": {"domain": [-130.83, 55.83], "nice": false, "zero": false}, "axis": null}, "y": {"datum": 77.5, "scale": {"domain": [-42.86, 107.62], "nice": false, "zero": false}, "axis": null}, "text": {"value": "r = 0.17**"}}},
     {"data": {"values": [{}]}, "mark": {"type": "text", "fontSize": 4.3, "color": "#9a9a9a"},
      "encoding": {"x": {"datum": -2.5, "scale": {"domain": [-130.83, 55.83], "nice": false, "zero": false}, "axis": null}, "y": {"datum": 70, "scale": {"domain": [-42.86, 107.62], "nice": false, "zero": false}, "axis": null}, "text": {"value": "r = 0.15**"}}}
    ]
   },
   {
    "width": 34, "height": 79,
    "title": {"text": "Cell", "subtitle": "P  R  E  S  S", "orient": "bottom", "anchor": "start", "frame": "group", "dx": -129, "offset": 67.5, "fontSize": 18, "fontWeight": "bold", "color": "#ffffff", "subtitleColor": "#ffffff", "subtitleFontSize": 3.6, "subtitleFontWeight": "bold", "subtitlePadding": 0.5},
    "layer": [
     {"data": {"values": [{}]}, "mark": {"type": "rect", "fill": "#ffffff", "stroke": "#6b6b6b", "strokeWidth": 0.5},
      "encoding": {"x": {"datum": -55, "scale": {"domain": [-59.92, 51.64], "nice": false, "zero": false}, "axis": null}, "x2": {"datum": 50}, "y": {"datum": 0, "scale": {"domain": [-42.86, 107.62], "nice": false, "zero": false}, "axis": null}, "y2": {"datum": 83}}},
     {"data": {"name": "imageValueFits"}, "transform": [{"filter": "datum.epoch == 'Post-target'"}], "mark": {"type": "line", "strokeWidth": 0.6},
      "encoding": {
       "x": {"field": "x", "type": "quantitative", "scale": {"domain": [-59.92, 51.64], "nice": false, "zero": false}, "axis": {"values": [-25, 0, 25], "offset": -22.5, "title": null, "labelFontSize": 4.5, "tickSize": 1.5}},
       "y": {"field": "rate", "type": "quantitative", "scale": {"domain": [-42.86, 107.62], "nice": false, "zero": false}, "axis": null},
       "color": {"field": "set", "type": "nominal", "scale": {"domain": ["Set 1", "Set 2"], "range": ["#111111", "#8c8c8c"]}, "legend": null},
       "strokeDash": {"field": "set", "type": "nominal", "scale": {"domain": ["Set 1", "Set 2"], "range": [[1, 0], [2, 1.5]]}, "legend": null}}},
     {"data": {"name": "imageValuePoints"}, "transform": [{"filter": "datum.epoch == 'Post-target'"}], "mark": {"type": "point", "filled": true, "size": 5, "opacity": 1},
      "encoding": {
       "x": {"field": "x", "type": "quantitative", "scale": {"domain": [-59.92, 51.64], "nice": false, "zero": false}, "axis": null},
       "y": {"field": "rate", "type": "quantitative", "scale": {"domain": [-42.86, 107.62], "nice": false, "zero": false}, "axis": null},
       "color": {"field": "set", "type": "nominal", "scale": {"domain": ["Set 1", "Set 2"], "range": ["#111111", "#8c8c8c"]}, "legend": null},
       "shape": {"field": "set", "type": "nominal", "scale": {"domain": ["Set 1", "Set 2"], "range": ["square", "circle"]}, "legend": null}}},
     {"data": {"values": [{}]}, "mark": {"type": "text", "fontSize": 5},
      "encoding": {"x": {"datum": -2.5, "scale": {"domain": [-59.92, 51.64], "nice": false, "zero": false}, "axis": null}, "y": {"datum": 89.5, "scale": {"domain": [-42.86, 107.62], "nice": false, "zero": false}, "axis": null}, "text": {"value": "Post-target"}}},
     {"data": {"values": [{}]}, "mark": {"type": "text", "fontSize": 4.3, "color": "#333333"},
      "encoding": {"x": {"datum": -2.5, "scale": {"domain": [-59.92, 51.64], "nice": false, "zero": false}, "axis": null}, "y": {"datum": 77.5, "scale": {"domain": [-42.86, 107.62], "nice": false, "zero": false}, "axis": null}, "text": {"value": "r = 0.17**"}}},
     {"data": {"values": [{}]}, "mark": {"type": "text", "fontSize": 4.3, "color": "#9a9a9a"},
      "encoding": {"x": {"datum": -2.5, "scale": {"domain": [-59.92, 51.64], "nice": false, "zero": false}, "axis": null}, "y": {"datum": 70, "scale": {"domain": [-42.86, 107.62], "nice": false, "zero": false}, "axis": null}, "text": {"value": "r = 0.15**"}}}
    ]
   },
   {
    "width": 34, "height": 79,
    "title": {"text": "Current Biology 2009 19, R958-R962DOI: (10.1016/j.cub.2009.08.010)", "subtitle": "Copyright © 2009 Elsevier Ltd Terms and Conditions", "orient": "bottom", "anchor": "start", "frame": "group", "dx": -117, "offset": 86, "fontSize": 5.9, "fontWeight": "normal", "color": "#cfcfcf", "subtitleColor": "#cfcfcf", "subtitleFontSize": 5.9, "subtitlePadding": 1.5},
    "layer": [
     {"data": {"values": [{}]}, "mark": {"type": "rect", "fill": "#ffffff", "stroke": "#6b6b6b", "strokeWidth": 0.5},
      "encoding": {"x": {"datum": -55, "scale": {"domain": [-58.39, 56.77], "nice": false, "zero": false}, "axis": null}, "x2": {"datum": 50}, "y": {"datum": 0, "scale": {"domain": [-42.86, 107.62], "nice": false, "zero": false}, "axis": null}, "y2": {"datum": 83}}},
     {"data": {"name": "imageValueFits"}, "transform": [{"filter": "datum.epoch == 'Pre-saccade'"}], "mark": {"type": "line", "strokeWidth": 0.6},
      "encoding": {
       "x": {"field": "x", "type": "quantitative", "scale": {"domain": [-58.39, 56.77], "nice": false, "zero": false}, "axis": {"values": [-25, 0, 25], "offset": -22.5, "title": null, "labelFontSize": 4.5, "tickSize": 1.5}},
       "y": {"field": "rate", "type": "quantitative", "scale": {"domain": [-42.86, 107.62], "nice": false, "zero": false}, "axis": null},
       "color": {"field": "set", "type": "nominal", "scale": {"domain": ["Set 1", "Set 2"], "range": ["#111111", "#8c8c8c"]}, "legend": null},
       "strokeDash": {"field": "set", "type": "nominal", "scale": {"domain": ["Set 1", "Set 2"], "range": [[1, 0], [2, 1.5]]}, "legend": null}}},
     {"data": {"name": "imageValuePoints"}, "transform": [{"filter": "datum.epoch == 'Pre-saccade'"}], "mark": {"type": "point", "filled": true, "size": 5, "opacity": 1},
      "encoding": {
       "x": {"field": "x", "type": "quantitative", "scale": {"domain": [-58.39, 56.77], "nice": false, "zero": false}, "axis": null},
       "y": {"field": "rate", "type": "quantitative", "scale": {"domain": [-42.86, 107.62], "nice": false, "zero": false}, "axis": null},
       "color": {"field": "set", "type": "nominal", "scale": {"domain": ["Set 1", "Set 2"], "range": ["#111111", "#8c8c8c"]}, "legend": null},
       "shape": {"field": "set", "type": "nominal", "scale": {"domain": ["Set 1", "Set 2"], "range": ["square", "circle"]}, "legend": null}}},
     {"data": {"values": [{}]}, "mark": {"type": "text", "fontSize": 5},
      "encoding": {"x": {"datum": -2.5, "scale": {"domain": [-58.39, 56.77], "nice": false, "zero": false}, "axis": null}, "y": {"datum": 89.5, "scale": {"domain": [-42.86, 107.62], "nice": false, "zero": false}, "axis": null}, "text": {"value": "Pre-saccade"}}},
     {"data": {"values": [{}]}, "mark": {"type": "text", "fontSize": 4.3, "color": "#333333"},
      "encoding": {"x": {"datum": -2.5, "scale": {"domain": [-58.39, 56.77], "nice": false, "zero": false}, "axis": null}, "y": {"datum": 77.5, "scale": {"domain": [-42.86, 107.62], "nice": false, "zero": false}, "axis": null}, "text": {"value": "r = 0.19**"}}},
     {"data": {"values": [{}]}, "mark": {"type": "text", "fontSize": 4.3, "color": "#9a9a9a"},
      "encoding": {"x": {"datum": -2.5, "scale": {"domain": [-58.39, 56.77], "nice": false, "zero": false}, "axis": null}, "y": {"datum": 70, "scale": {"domain": [-42.86, 107.62], "nice": false, "zero": false}, "axis": null}, "text": {"value": "r = 0.16**"}}}
    ]
   },
   {
    "width": 36, "height": 79,
    "layer": [
     {"data": {"values": [{}]}, "mark": {"type": "rect", "fill": "#ffffff", "stroke": "#6b6b6b", "strokeWidth": 0.5},
      "encoding": {"x": {"datum": -55, "scale": {"domain": [-58.28, 59.84], "nice": false, "zero": false}, "axis": null}, "x2": {"datum": 50}, "y": {"datum": 0, "scale": {"domain": [-42.86, 107.62], "nice": false, "zero": false}, "axis": null}, "y2": {"datum": 83}}},
     {"data": {"name": "imageValueFits"}, "transform": [{"filter": "datum.epoch == 'Post-saccade'"}], "mark": {"type": "line", "strokeWidth": 0.6},
      "encoding": {
       "x": {"field": "x", "type": "quantitative", "scale": {"domain": [-58.28, 59.84], "nice": false, "zero": false}, "axis": {"values": [-25, 0, 25], "offset": -22.5, "labelFontSize": 4.5, "tickSize": 1.5, "title": "Image value (ms of juice)", "titleX": -34, "titleY": 10.5, "titleBaseline": "middle", "titleAlign": "center", "titleFontSize": 5}},
       "y": {"field": "rate", "type": "quantitative", "scale": {"domain": [-42.86, 107.62], "nice": false, "zero": false}, "axis": null},
       "color": {"field": "set", "type": "nominal", "scale": {"domain": ["Set 1", "Set 2"], "range": ["#111111", "#8c8c8c"]}, "legend": null},
       "strokeDash": {"field": "set", "type": "nominal", "scale": {"domain": ["Set 1", "Set 2"], "range": [[1, 0], [2, 1.5]]}, "legend": null}}},
     {"data": {"name": "imageValuePoints"}, "transform": [{"filter": "datum.epoch == 'Post-saccade'"}], "mark": {"type": "point", "filled": true, "size": 5, "opacity": 1},
      "encoding": {
       "x": {"field": "x", "type": "quantitative", "scale": {"domain": [-58.28, 59.84], "nice": false, "zero": false}, "axis": null},
       "y": {"field": "rate", "type": "quantitative", "scale": {"domain": [-42.86, 107.62], "nice": false, "zero": false}, "axis": null},
       "color": {"field": "set", "type": "nominal", "scale": {"domain": ["Set 1", "Set 2"], "range": ["#111111", "#8c8c8c"]}, "legend": null},
       "shape": {"field": "set", "type": "nominal", "scale": {"domain": ["Set 1", "Set 2"], "range": ["square", "circle"]}, "legend": null}}},
     {"data": {"values": [{}]}, "mark": {"type": "text", "fontSize": 5},
      "encoding": {"x": {"datum": -2.5, "scale": {"domain": [-58.28, 59.84], "nice": false, "zero": false}, "axis": null}, "y": {"datum": 89.5, "scale": {"domain": [-42.86, 107.62], "nice": false, "zero": false}, "axis": null}, "text": {"value": "Post-saccade"}}},
     {"data": {"values": [{}]}, "mark": {"type": "text", "fontSize": 4.3, "color": "#333333"},
      "encoding": {"x": {"datum": -2.5, "scale": {"domain": [-58.28, 59.84], "nice": false, "zero": false}, "axis": null}, "y": {"datum": 77.5, "scale": {"domain": [-42.86, 107.62], "nice": false, "zero": false}, "axis": null}, "text": {"value": "r = 0.22**"}}},
     {"data": {"values": [{}]}, "mark": {"type": "text", "fontSize": 4.3, "color": "#9a9a9a"},
      "encoding": {"x": {"datum": -2.5, "scale": {"domain": [-58.28, 59.84], "nice": false, "zero": false}, "axis": null}, "y": {"datum": 70, "scale": {"domain": [-42.86, 107.62], "nice": false, "zero": false}, "axis": null}, "text": {"value": "r = 0.18**"}}}
    ]
   },
   {
    "width": 52, "height": 79,
    "title": {"text": "D", "anchor": "start", "frame": "group", "dx": 3, "offset": -7.5},
    "layer": [
     {"data": {"values": [{}]}, "mark": {"type": "rect", "fill": "#ffffff", "stroke": "#6b6b6b", "strokeWidth": 0.5},
      "encoding": {"x": {"datum": -48, "scale": {"domain": [-108, 48], "nice": false, "zero": false}, "axis": null}, "x2": {"datum": 42}, "y": {"datum": 0, "scale": {"domain": [-42.86, 107.62], "nice": false, "zero": false}, "axis": null}, "y2": {"datum": 83}}},
     {"data": {"name": "juiceFits"}, "transform": [{"filter": "datum.epoch == 'Pre-target'"}], "mark": {"type": "line", "strokeWidth": 0.6},
      "encoding": {
       "x": {"field": "x", "type": "quantitative", "scale": {"domain": [-108, 48], "nice": false, "zero": false}, "axis": {"values": [-25, 0, 25], "offset": -22.5, "title": null, "labelFontSize": 4.5, "tickSize": 1.5}},
       "y": {"field": "rate", "type": "quantitative", "scale": {"domain": [-42.86, 107.62], "nice": false, "zero": false}, "axis": {"values": [20, 40, 60], "offset": -20, "title": "Firing rate (sp/s)", "labelFontSize": 4.5, "titleFontSize": 4.3, "tickSize": 1.5}},
       "color": {"field": "set", "type": "nominal", "scale": {"domain": ["Set 1", "Set 2"], "range": ["#111111", "#8c8c8c"]}, "legend": null},
       "strokeDash": {"field": "set", "type": "nominal", "scale": {"domain": ["Set 1", "Set 2"], "range": [[1, 0], [2, 1.5]]}, "legend": null}}},
     {"data": {"name": "juicePoints"}, "transform": [{"filter": "datum.epoch == 'Pre-target'"}], "mark": {"type": "point", "filled": true, "size": 5, "opacity": 1},
      "encoding": {
       "x": {"field": "x", "type": "quantitative", "scale": {"domain": [-108, 48], "nice": false, "zero": false}, "axis": null},
       "y": {"field": "rate", "type": "quantitative", "scale": {"domain": [-42.86, 107.62], "nice": false, "zero": false}, "axis": null},
       "color": {"field": "set", "type": "nominal", "scale": {"domain": ["Set 1", "Set 2"], "range": ["#111111", "#8c8c8c"]}, "legend": null},
       "shape": {"field": "set", "type": "nominal", "scale": {"domain": ["Set 1", "Set 2"], "range": ["square", "circle"]}, "legend": null}}},
     {"data": {"values": [{}]}, "mark": {"type": "text", "fontSize": 5},
      "encoding": {"x": {"datum": -3, "scale": {"domain": [-108, 48], "nice": false, "zero": false}, "axis": null}, "y": {"datum": 89.5, "scale": {"domain": [-42.86, 107.62], "nice": false, "zero": false}, "axis": null}, "text": {"value": "Pre-target"}}},
     {"data": {"values": [{}]}, "mark": {"type": "text", "fontSize": 4.3, "color": "#333333"},
      "encoding": {"x": {"datum": -3, "scale": {"domain": [-108, 48], "nice": false, "zero": false}, "axis": null}, "y": {"datum": 77.5, "scale": {"domain": [-42.86, 107.62], "nice": false, "zero": false}, "axis": null}, "text": {"value": "r = 0.06*"}}},
     {"data": {"values": [{}]}, "mark": {"type": "text", "fontSize": 4.3, "color": "#9a9a9a"},
      "encoding": {"x": {"datum": -3, "scale": {"domain": [-108, 48], "nice": false, "zero": false}, "axis": null}, "y": {"datum": 70, "scale": {"domain": [-42.86, 107.62], "nice": false, "zero": false}, "axis": null}, "text": {"value": "r = 0.06*"}}}
    ]
   },
   {
    "width": 35, "height": 79,
    "layer": [
     {"data": {"values": [{}]}, "mark": {"type": "rect", "fill": "#ffffff", "stroke": "#6b6b6b", "strokeWidth": 0.5},
      "encoding": {"x": {"datum": -48, "scale": {"domain": [-52.29, 47.71], "nice": false, "zero": false}, "axis": null}, "x2": {"datum": 42}, "y": {"datum": 0, "scale": {"domain": [-42.86, 107.62], "nice": false, "zero": false}, "axis": null}, "y2": {"datum": 83}}},
     {"data": {"name": "juiceFits"}, "transform": [{"filter": "datum.epoch == 'Post-target'"}], "mark": {"type": "line", "strokeWidth": 0.6},
      "encoding": {
       "x": {"field": "x", "type": "quantitative", "scale": {"domain": [-52.29, 47.71], "nice": false, "zero": false}, "axis": {"values": [-25, 0, 25], "offset": -22.5, "title": null, "labelFontSize": 4.5, "tickSize": 1.5}},
       "y": {"field": "rate", "type": "quantitative", "scale": {"domain": [-42.86, 107.62], "nice": false, "zero": false}, "axis": null},
       "color": {"field": "set", "type": "nominal", "scale": {"domain": ["Set 1", "Set 2"], "range": ["#111111", "#8c8c8c"]}, "legend": null},
       "strokeDash": {"field": "set", "type": "nominal", "scale": {"domain": ["Set 1", "Set 2"], "range": [[1, 0], [2, 1.5]]}, "legend": null}}},
     {"data": {"name": "juicePoints"}, "transform": [{"filter": "datum.epoch == 'Post-target'"}], "mark": {"type": "point", "filled": true, "size": 5, "opacity": 1},
      "encoding": {
       "x": {"field": "x", "type": "quantitative", "scale": {"domain": [-52.29, 47.71], "nice": false, "zero": false}, "axis": null},
       "y": {"field": "rate", "type": "quantitative", "scale": {"domain": [-42.86, 107.62], "nice": false, "zero": false}, "axis": null},
       "color": {"field": "set", "type": "nominal", "scale": {"domain": ["Set 1", "Set 2"], "range": ["#111111", "#8c8c8c"]}, "legend": null},
       "shape": {"field": "set", "type": "nominal", "scale": {"domain": ["Set 1", "Set 2"], "range": ["square", "circle"]}, "legend": null}}},
     {"data": {"values": [{}]}, "mark": {"type": "text", "fontSize": 5},
      "encoding": {"x": {"datum": -3, "scale": {"domain": [-52.29, 47.71], "nice": false, "zero": false}, "axis": null}, "y": {"datum": 89.5, "scale": {"domain": [-42.86, 107.62], "nice": false, "zero": false}, "axis": null}, "text": {"value": "Post-target"}}},
     {"data": {"values": [{}]}, "mark": {"type": "text", "fontSize": 4.3, "color": "#333333"},
      "encoding": {"x": {"datum": -3, "scale": {"domain": [-52.29, 47.71], "nice": false, "zero": false}, "axis": null}, "y": {"datum": 77.5, "scale": {"domain": [-42.86, 107.62], "nice": false, "zero": false}, "axis": null}, "text": {"value": "r = 0.14**"}}},
     {"data": {"values": [{}]}, "mark": {"type": "text", "fontSize": 4.3, "color": "#9a9a9a"},
      "encoding": {"x": {"datum": -3, "scale": {"domain": [-52.29, 47.71], "nice": false, "zero": false}, "axis": null}, "y": {"datum": 70, "scale": {"domain": [-42.86, 107.62], "nice": false, "zero": false}, "axis": null}, "text": {"value": "r = 0.11**"}}}
    ]
   },
   {
    "width": 33, "height": 79,
    "layer": [
     {"data": {"values": [{}]}, "mark": {"type": "rect", "fill": "#ffffff", "stroke": "#6b6b6b", "strokeWidth": 0.5},
      "encoding": {"x": {"datum": -48, "scale": {"domain": [-52.58, 48.1], "nice": false, "zero": false}, "axis": null}, "x2": {"datum": 42}, "y": {"datum": 0, "scale": {"domain": [-42.86, 107.62], "nice": false, "zero": false}, "axis": null}, "y2": {"datum": 83}}},
     {"data": {"name": "juiceFits"}, "transform": [{"filter": "datum.epoch == 'Pre-saccade'"}], "mark": {"type": "line", "strokeWidth": 0.6},
      "encoding": {
       "x": {"field": "x", "type": "quantitative", "scale": {"domain": [-52.58, 48.1], "nice": false, "zero": false}, "axis": {"values": [-25, 0, 25], "offset": -22.5, "title": null, "labelFontSize": 4.5, "tickSize": 1.5}},
       "y": {"field": "rate", "type": "quantitative", "scale": {"domain": [-42.86, 107.62], "nice": false, "zero": false}, "axis": null},
       "color": {"field": "set", "type": "nominal", "scale": {"domain": ["Set 1", "Set 2"], "range": ["#111111", "#8c8c8c"]}, "legend": null},
       "strokeDash": {"field": "set", "type": "nominal", "scale": {"domain": ["Set 1", "Set 2"], "range": [[1, 0], [2, 1.5]]}, "legend": null}}},
     {"data": {"name": "juicePoints"}, "transform": [{"filter": "datum.epoch == 'Pre-saccade'"}], "mark": {"type": "point", "filled": true, "size": 5, "opacity": 1},
      "encoding": {
       "x": {"field": "x", "type": "quantitative", "scale": {"domain": [-52.58, 48.1], "nice": false, "zero": false}, "axis": null},
       "y": {"field": "rate", "type": "quantitative", "scale": {"domain": [-42.86, 107.62], "nice": false, "zero": false}, "axis": null},
       "color": {"field": "set", "type": "nominal", "scale": {"domain": ["Set 1", "Set 2"], "range": ["#111111", "#8c8c8c"]}, "legend": null},
       "shape": {"field": "set", "type": "nominal", "scale": {"domain": ["Set 1", "Set 2"], "range": ["square", "circle"]}, "legend": null}}},
     {"data": {"values": [{}]}, "mark": {"type": "text", "fontSize": 5},
      "encoding": {"x": {"datum": -3, "scale": {"domain": [-52.58, 48.1], "nice": false, "zero": false}, "axis": null}, "y": {"datum": 89.5, "scale": {"domain": [-42.86, 107.62], "nice": false, "zero": false}, "axis": null}, "text": {"value": "Pre-saccade"}}},
     {"data": {"values": [{}]}, "mark": {"type": "text", "fontSize": 4.3, "color": "#333333"},
      "encoding": {"x": {"datum": -3, "scale": {"domain": [-52.58, 48.1], "nice": false, "zero": false}, "axis": null}, "y": {"datum": 77.5, "scale": {"domain": [-42.86, 107.62], "nice": false, "zero": false}, "axis": null}, "text": {"value": "r = 0.12**"}}},
     {"data": {"values": [{}]}, "mark": {"type": "text", "fontSize": 4.3, "color": "#9a9a9a"},
      "encoding": {"x": {"datum": -3, "scale": {"domain": [-52.58, 48.1], "nice": false, "zero": false}, "axis": null}, "y": {"datum": 70, "scale": {"domain": [-42.86, 107.62], "nice": false, "zero": false}, "axis": null}, "text": {"value": "r = 0.10**"}}}
    ]
   },
   {
    "width": 43, "height": 79,
    "title": {"text": "Current Biology", "orient": "bottom", "anchor": "end", "frame": "group", "dx": -5, "offset": -6.5, "fontSize": 3.6, "fontStyle": "italic", "fontWeight": "normal", "color": "#555555"},
    "layer": [
     {"data": {"values": [{}]}, "mark": {"type": "rect", "fill": "#ffffff", "stroke": "#6b6b6b", "strokeWidth": 0.5},
      "encoding": {"x": {"datum": -48, "scale": {"domain": [-54, 75], "nice": false, "zero": false}, "axis": null}, "x2": {"datum": 42}, "y": {"datum": 0, "scale": {"domain": [-42.86, 107.62], "nice": false, "zero": false}, "axis": null}, "y2": {"datum": 83}}},
     {"data": {"name": "juiceFits"}, "transform": [{"filter": "datum.epoch == 'Post-saccade'"}], "mark": {"type": "line", "strokeWidth": 0.6},
      "encoding": {
       "x": {"field": "x", "type": "quantitative", "scale": {"domain": [-54, 75], "nice": false, "zero": false}, "axis": {"values": [-25, 0, 25], "offset": -22.5, "labelFontSize": 4.5, "tickSize": 1.5, "title": "Juice difference (T2-T1, ms of juice)", "titleX": -35, "titleY": 9, "titleBaseline": "middle", "titleAlign": "center", "titleFontSize": 4.6}},
       "y": {"field": "rate", "type": "quantitative", "scale": {"domain": [-42.86, 107.62], "nice": false, "zero": false}, "axis": null},
       "color": {"field": "set", "type": "nominal", "scale": {"domain": ["Set 1", "Set 2"], "range": ["#111111", "#8c8c8c"]}, "legend": null},
       "strokeDash": {"field": "set", "type": "nominal", "scale": {"domain": ["Set 1", "Set 2"], "range": [[1, 0], [2, 1.5]]}, "legend": null}}},
     {"data": {"name": "juicePoints"}, "transform": [{"filter": "datum.epoch == 'Post-saccade'"}], "mark": {"type": "point", "filled": true, "size": 5, "opacity": 1},
      "encoding": {
       "x": {"field": "x", "type": "quantitative", "scale": {"domain": [-54, 75], "nice": false, "zero": false}, "axis": null},
       "y": {"field": "rate", "type": "quantitative", "scale": {"domain": [-42.86, 107.62], "nice": false, "zero": false}, "axis": null},
       "color": {"field": "set", "type": "nominal", "scale": {"domain": ["Set 1", "Set 2"], "range": ["#111111", "#8c8c8c"]}, "legend": null},
       "shape": {"field": "set", "type": "nominal", "scale": {"domain": ["Set 1", "Set 2"], "range": ["square", "circle"]}, "legend": null}}},
     {"data": {"values": [{}]}, "mark": {"type": "text", "fontSize": 5},
      "encoding": {"x": {"datum": -3, "scale": {"domain": [-54, 75], "nice": false, "zero": false}, "axis": null}, "y": {"datum": 89.5, "scale": {"domain": [-42.86, 107.62], "nice": false, "zero": false}, "axis": null}, "text": {"value": "Post-saccade"}}},
     {"data": {"values": [{}]}, "mark": {"type": "text", "fontSize": 4.3, "color": "#333333"},
      "encoding": {"x": {"datum": -3, "scale": {"domain": [-54, 75], "nice": false, "zero": false}, "axis": null}, "y": {"datum": 77.5, "scale": {"domain": [-42.86, 107.62], "nice": false, "zero": false}, "axis": null}, "text": {"value": "r = 0.05*"}}},
     {"data": {"values": [{}]}, "mark": {"type": "text", "fontSize": 4.3, "color": "#9a9a9a"},
      "encoding": {"x": {"datum": -3, "scale": {"domain": [-54, 75], "nice": false, "zero": false}, "axis": null}, "y": {"datum": 70, "scale": {"domain": [-42.86, 107.62], "nice": false, "zero": false}, "axis": null}, "text": {"value": "r = 0.02"}}}
    ]
   }
  ]
 }
]
}
